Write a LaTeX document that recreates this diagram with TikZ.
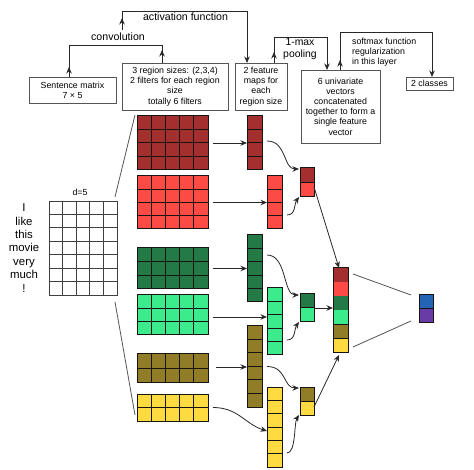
\documentclass[tikz,border=0pt]{standalone}
\usepackage{fontspec}
\setmainfont{Liberation Sans}
\usetikzlibrary{calc,arrows.meta}

\definecolor{cDR}{RGB}{163,48,46}
\definecolor{cR}{RGB}{252,74,68}
\definecolor{cDG}{RGB}{35,122,70}
\definecolor{cLG}{RGB}{60,235,140}
\definecolor{cOl}{RGB}{145,124,40}
\definecolor{cY}{RGB}{255,218,65}
\definecolor{cB}{RGB}{35,100,180}
\definecolor{cP}{RGB}{105,60,165}
\definecolor{boxc}{RGB}{85,85,85}
\definecolor{gridc}{RGB}{25,20,20}
\definecolor{linec}{RGB}{40,40,40}

\tikzset{
  box/.style={draw=boxc, line width=0.8pt, inner sep=0pt, outer sep=0pt, align=center, font=\fontsize{8.8}{10.2}\selectfont},
  lbl/.style={inner sep=0pt, font=\fontsize{10.6}{12}\selectfont},
  blk/.style={draw=gridc, line width=1pt, inner sep=0pt, outer sep=0pt},
  gridln/.style={draw=gridc, line width=1pt},
  ln/.style={draw=linec, line width=0.8pt},
  thinln/.style={draw=boxc, line width=0.8pt},
  arr/.style={ln, -{Stealth[length=6.5pt,width=5.5pt]}},
}

\newcommand{\cellblock}[8]{%
  \node[blk, fill=#8, minimum width=#4pt, minimum height=#5pt] (#1) at (#2,#3) {};
  \foreach \i in {1,...,#6}{\draw[gridln] ($(#1.north west)!\i/#6!(#1.north east)$) -- ($(#1.south west)!\i/#6!(#1.south east)$);}
  \foreach \i in {1,...,#7}{\draw[gridln] ($(#1.north west)!\i/#7!(#1.south west)$) -- ($(#1.north east)!\i/#7!(#1.south east)$);}
}
\newcommand{\twoblock}[7]{%
  \node[blk, minimum width=#4pt, minimum height=#5pt] (#1) at (#2,#3) {};
  \fill[#6] (#1.north west) rectangle (#1.east);
  \fill[#7] (#1.west) rectangle (#1.south east);
  \draw[gridln] (#1.north west) rectangle (#1.south east);
  \draw[gridln] (#1.west) -- (#1.east);
}

\begin{document}
\begin{tikzpicture}[x=1pt,y=-1pt]
\useasboundingbox (0,0) rectangle (474,470);
\fill[white] (0,0) rectangle (474,470);

% text boxes
\node[box, minimum width=87pt, minimum height=26pt] (sm) at (72.5,90) {Sentence matrix\\7 × 5};
\node[box, minimum width=106pt, minimum height=47pt] (fb) at (175,86.5) {3 region sizes: (2,3,4)\\2 filters for each region\\size\\totally 6 filters};
\node[box, minimum width=52pt, minimum height=47pt] (fm) at (261,86.5) {2 feature\\maps for\\each\\region size};
\node[box, minimum width=79pt, minimum height=73pt] (uv) at (340.5,106.5) {6 univariate\\vectors\\concatenated\\together to form a\\single feature\\vector};
\node[box, minimum width=47pt, minimum height=13pt] (cls) at (429.5,83.5) {2 classes};

% labels
\node[lbl] (convl) at (118,37) {convolution};
\node[lbl] (actl) at (185.5,17) {activation function};
\node[lbl, align=center, font=\fontsize{10.4}{12}\selectfont] (pooll) at (300,49) {1-max\\pooling};
\node[lbl, align=left, anchor=west, font=\fontsize{8.8}{10}\selectfont] (smx) at (352,52) {softmax function\\regularization\\in this layer};

% top connectors
\coordinate (cvA) at (69,45); \coordinate (cvB) at (162,45);
\draw[ln] (sm.north -| cvA) -- (cvA) -- (cvB) -- (fb.north -| cvB);
\draw[arr] (sm.north -| cvA) -- ($(sm.north -| cvA)+(0,-10)$);
\draw[arr] ($(cvB)+(0,14)$) -- ($(cvB)+(0,5)$);

\coordinate (afA) at (122,30); \coordinate (afB) at (122,11); \coordinate (afC) at (247,11);
\draw[ln] (afA) -- (afB) -- (afC);
\draw[arr] (afC) -- (fm.north -| afC);
\draw[arr] (afA) -- ($(afA)+(0,-12)$);

\coordinate (plA) at (274,37); \coordinate (plB) at (327,37);
\draw[ln] (fm.north -| plA) -- (plA) -- (plB);
\draw[arr] (plB) -- (uv.north -| plB);
\draw[arr] (fm.north -| plA) -- ($(fm.north -| plA)+(0,-11)$);

\coordinate (sxA) at (340,32); \coordinate (sxB) at (432,32);
\draw[ln] (uv.north -| sxA) -- (sxA) -- (sxB);
\draw[arr] (sxB) -- (cls.north -| sxB);
\draw[arr] (uv.north -| sxA) -- ($(uv.north -| sxA)+(0,-10)$);

% sentence matrix
\begin{scope}[gridln/.style={draw=black!75, line width=0.9pt}, blk/.style={draw=black!75, line width=0.9pt, inner sep=0pt, outer sep=0pt}]
\cellblock{s}{83}{248}{68}{94}{5}{7}{white}
\end{scope}
\node[lbl, align=center, font=\fontsize{11.4}{13.4}\selectfont] (words) at (24,248) {I\\like\\this\\movie\\very\\much\\!};
\node[lbl, font=\fontsize{8.8}{10}\selectfont] (dl) at (80,192) {d=5};

% filters
\cellblock{f1}{172.5}{143}{71}{54}{5}{4}{cDR}
\cellblock{f2}{172.5}{202.5}{71}{53}{5}{4}{cR}
\cellblock{f3}{172.5}{268.5}{71}{41}{5}{3}{cDG}
\cellblock{f4}{172.5}{315}{71}{40}{5}{3}{cLG}
\cellblock{f5}{172.5}{368}{71}{28}{5}{2}{cOl}
\cellblock{f6}{172.5}{407.5}{71}{27}{5}{2}{cY}

\draw[thinln] ($(s.north east)+(-2,-4)$) -- ($(f1.north west)+(-2,-1)$);
\draw[thinln] ($(s.south east)+(-2,7)$) -- ($(f6.south west)+(-2,-6)$);

% feature maps
\cellblock{m1}{254.5}{143}{15}{54}{1}{4}{cDR}
\cellblock{m2}{274.5}{202.5}{15}{53}{1}{4}{cR}
\cellblock{m3}{254.5}{268.5}{15}{67}{1}{5}{cDG}
\cellblock{m4}{274.5}{321.5}{15}{67}{1}{5}{cLG}
\cellblock{m5}{254.5}{366.5}{15}{81}{1}{6}{cOl}
\cellblock{m6}{274.5}{427}{15}{80}{1}{6}{cY}

% filter -> map arrows
\draw[arr] ($(f1.east)+(5,0)$) -- (m1.west);
\draw[arr] ($(f2.east)+(5,0)$) -- (m2.west);
\draw[arr] ($(f3.east)+(5,0)$) -- (m3.west);
\coordinate (a4) at ($(f4.east)+(5,2)$);
\draw[arr] (a4) -- (a4 -| m4.west);
\coordinate (a5) at ($(f5.east)+(8,-1)$);
\draw[arr] (a5) -- (a5 -| m5.west);
\draw[arr] ($(f6.east)+(5,0)$) .. controls +(25,0) and +(-22,-7) .. ($(m6.west)+(0,4)$);

% pooled
\twoblock{p1}{307}{182.5}{14}{29}{cDR}{cR}
\twoblock{p2}{307}{308}{14}{28}{cDG}{cLG}
\twoblock{p3}{307}{401}{14}{28}{cOl}{cY}

% map -> pooled
\draw[arr] ($(m1.east)+(5,-2)$) .. controls +(20,0) and +(-16,0) .. ($(p1.north west)+(-1,1)$);
\draw[arr] ($(m2.east)+(5,12.5)$) .. controls +(9,0) and +(-5,7) .. ($(p1.south west)+(-1,0)$);
\draw[arr] ($(m3.east)+(5,-13.5)$) .. controls +(20,0) and +(-16,0) .. ($(p2.north west)+(-1,1)$);
\draw[arr] ($(m4.east)+(5,18.5)$) .. controls +(9,0) and +(-5,7) .. ($(p2.south west)+(-1,0)$);
\draw[arr] ($(m5.east)+(5,0)$) .. controls +(20,0) and +(-16,0) .. ($(p3.north west)+(-1,1)$);
\draw[arr] ($(m6.east)+(5,26)$) .. controls +(9,0) and +(-5,8) .. ($(p3.south west)+(-1,0)$);

% concatenated vector
\node[blk, minimum width=15pt, minimum height=85pt] (c) at (340.5,310.5) {};
\foreach \i/\j/\col in {0/1/cDR,1/2/cR,2/3/cDG,3/4/cLG,4/5/cOl,5/6/cY}{
  \fill[\col] ($(c.north west)!\i/6!(c.south west)$) rectangle ($(c.north east)!\j/6!(c.south east)$);
  \draw[gridln] ($(c.north west)!\j/6!(c.south west)$) -- ($(c.north east)!\j/6!(c.south east)$);
}
\draw[gridln] (c.north west) rectangle (c.south east);

% pooled -> concat
\draw[arr] ($(p1.east)+(0,4.5)$) -- ($(c.north)+(-1.5,0)$);
\draw[arr] (p2.east) -- (p2.east -| c.west);
\draw[arr] ($(p3.east)+(0,6)$) -- ($(c.south)+(-1.5,2)$);

% output
\twoblock{o}{426}{309}{14}{28}{cB}{cP}
\draw[thinln] ($(c.north east)+(5,6)$) -- ($(o.north west)+(-8,0)$);
\draw[thinln] ($(c.south east)+(5,-6)$) -- ($(o.south west)+(-8,-2)$);
\end{tikzpicture}
\end{document}
